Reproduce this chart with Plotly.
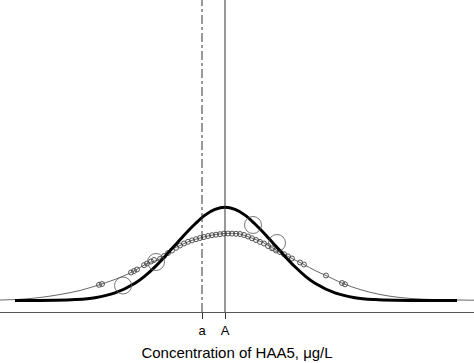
import plotly.graph_objects as go

# Concentration of HAA5 (ug/L) and relative frequency values
thick_x = [3.0, 7.0, 11.0, 15.0, 19.0, 23.0, 27.0, 29.0, 31.0, 33.0, 35.0, 37.0, 39.0, 41.0, 43.0,
           45.0, 47.0, 49.0, 51.0, 53.0, 55.0, 57.0, 59.0, 61.0, 63.0, 67.0, 71.0, 75.0, 79.0,
           83.0, 87.0, 91.4]
thick_y = [0.0, 0.0005, 0.002, 0.009, 0.028, 0.076, 0.173, 0.246, 0.337, 0.441, 0.553, 0.663,
           0.765, 0.854, 0.911, 0.933, 0.911, 0.854, 0.765, 0.663, 0.553, 0.441, 0.337, 0.246,
           0.173, 0.076, 0.028, 0.009, 0.002, 0.0005, 0.0, 0.0]

thin_x = [0.0, 4.0, 8.0, 12.0, 16.0, 20.0, 24.0, 27.0, 29.4, 32.0, 34.0, 36.0, 38.0, 40.0, 42.0,
          45.0, 48.0, 50.0, 52.6, 55.4, 58.0, 60.8, 63.0, 65.2, 68.6, 72.0, 76.0, 80.0, 84.0,
          88.0, 94.8]
thin_y = [0.005, 0.012, 0.03, 0.06, 0.10, 0.16, 0.23, 0.30, 0.37, 0.415, 0.50, 0.55, 0.595,
          0.625, 0.65, 0.67, 0.665, 0.63, 0.58, 0.50, 0.43, 0.36, 0.30, 0.25, 0.17, 0.11, 0.06,
          0.03, 0.015, 0.008, 0.003]

# observations (small open circles) along the thin curve
obs_x = [19.8, 20.4, 26.2, 26.8, 27.4, 28.8, 29.4, 30.2, 30.8,
         32.0, 32.8, 33.6, 34.4, 35.2, 36.0, 36.8, 37.6, 38.4, 39.2, 40.0, 40.8, 41.6, 42.4,
         43.2, 44.0, 44.8, 45.6, 46.4, 47.2, 48.0, 48.8, 49.6, 50.4, 51.2, 52.0, 52.8, 53.6,
         54.4, 55.2, 56.0, 56.8, 57.6, 58.4,
         60.0, 60.8, 65.2, 68.4, 69.0]
obs_y = [0.157, 0.165, 0.28, 0.295, 0.31, 0.353, 0.37, 0.39, 0.405,
         0.415, 0.445, 0.475, 0.50, 0.527, 0.55, 0.57, 0.587, 0.601, 0.613, 0.625, 0.635,
         0.645, 0.653, 0.658, 0.663, 0.669, 0.67, 0.669, 0.667, 0.665, 0.655, 0.64, 0.622,
         0.605, 0.586, 0.57, 0.545, 0.522, 0.50, 0.484, 0.463, 0.441, 0.42,
         0.38, 0.36, 0.25, 0.175, 0.162]

# large open circles on the thick curve
big_x = [24.6, 31.2, 50.6, 55.4]
big_y = [0.15, 0.385, 0.755, 0.575]

a_value = 40.4
A_value = 45.0
tick_vals = [a_value, A_value]
tick_text = ["a", "A"]

fig = go.Figure()
fig.add_trace(go.Scatter(x=thin_x, y=thin_y, mode="lines", line=dict(color="#555555", width=0.9),
                         line_shape="spline", showlegend=False, hoverinfo="skip"))
fig.add_trace(go.Scatter(x=obs_x, y=obs_y, mode="markers",
                         marker=dict(symbol="circle-open", size=5, color="#444444",
                                     line=dict(width=0.9, color="#444444")),
                         showlegend=False))
fig.add_trace(go.Scatter(x=thick_x, y=thick_y, mode="lines", line=dict(color="black", width=3),
                         line_shape="spline", showlegend=False))
fig.add_trace(go.Scatter(x=big_x, y=big_y, mode="markers",
                         marker=dict(symbol="circle-open", size=17, color="#555555",
                                     line=dict(width=0.8, color="#555555")),
                         showlegend=False))

fig.add_shape(type="line", xref="x", yref="paper", x0=a_value, x1=a_value, y0=0, y1=1,
              line=dict(color="#333333", width=1, dash="dashdot"))
fig.add_shape(type="line", xref="x", yref="paper", x0=A_value, x1=A_value, y0=0, y1=1,
              line=dict(color="#333333", width=1))

fig.update_layout(
    width=474, height=363,
    margin=dict(l=0, r=0, t=0, b=51),
    paper_bgcolor="white", plot_bgcolor="white",
    font=dict(family="Liberation Sans, Arial, sans-serif", color="black"),
    xaxis=dict(range=[0, 94.8], showgrid=False, zeroline=False, showline=True,
               linecolor="#555555", linewidth=1,
               tickvals=tick_vals, ticktext=tick_text, ticks="outside", ticklen=6,
               tickcolor="#333333", tickfont=dict(size=13),
               title=dict(text="Concentration of HAA5, μg/L", font=dict(size=15), standoff=10),
               automargin=False),
    yaxis=dict(range=[-0.115, 3.005], visible=False),
)

fig.write_html("out.html", config={"displayModeBar": False},
               post_script="document.body.style.margin='0';")
